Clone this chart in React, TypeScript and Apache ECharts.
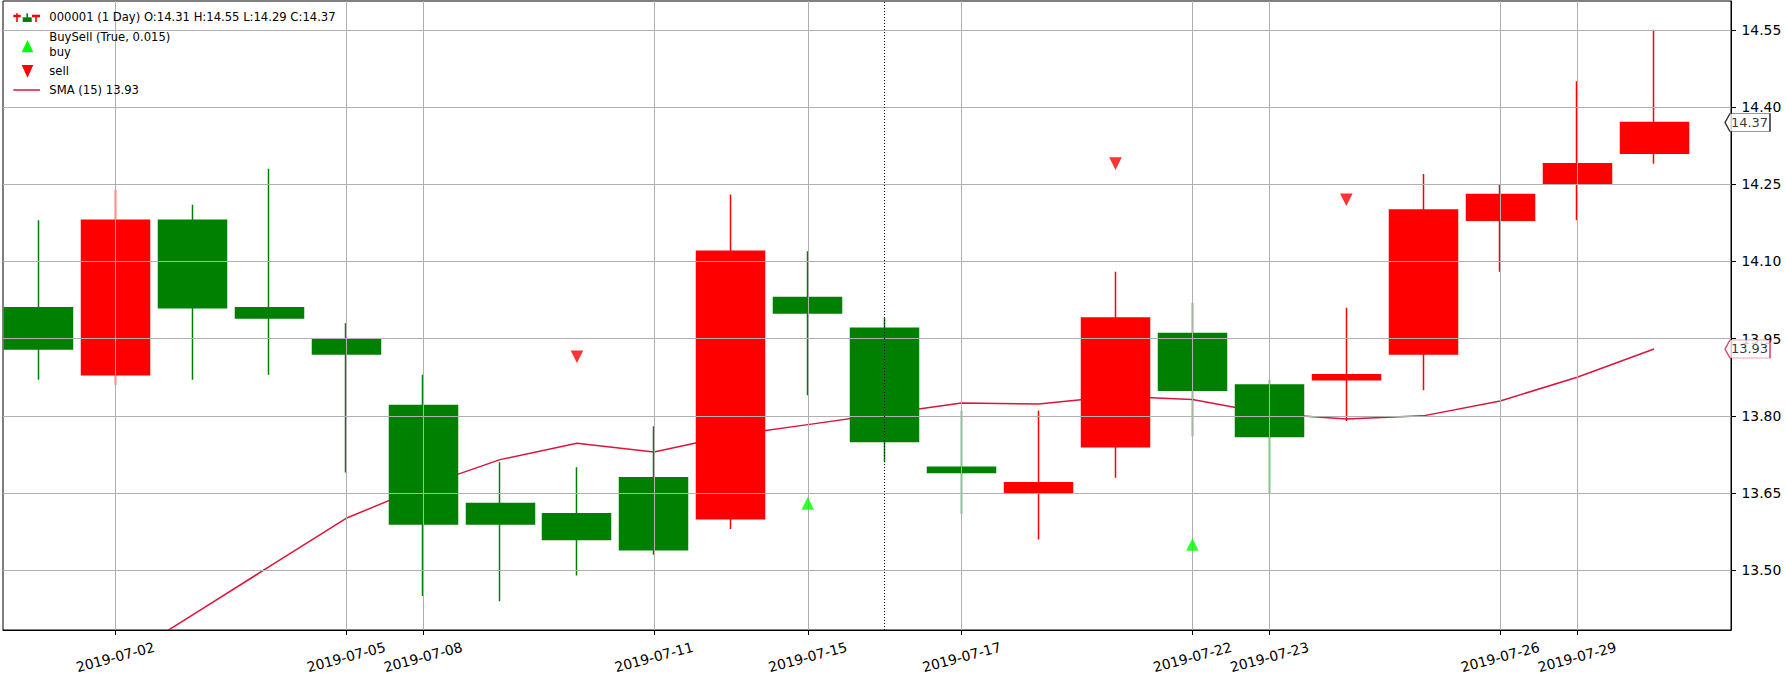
import React, { useEffect, useRef } from "react";
import * as echarts from "echarts";

const dates = [
  "2019-07-01", "2019-07-02", "2019-07-03", "2019-07-04", "2019-07-05",
  "2019-07-08", "2019-07-09", "2019-07-10", "2019-07-11", "2019-07-12",
  "2019-07-15", "2019-07-16", "2019-07-17", "2019-07-18", "2019-07-19",
  "2019-07-22", "2019-07-23", "2019-07-24", "2019-07-25", "2019-07-26",
  "2019-07-29", "2019-07-30",
];
const openP = [14.01, 13.88, 14.18, 14.01, 13.95, 13.82, 13.63, 13.61, 13.68, 13.60, 14.03, 13.97, 13.70, 13.65, 13.74, 13.96, 13.86, 13.87, 13.92, 14.18, 14.25, 14.31];
const closeP = [13.93, 14.18, 14.01, 13.99, 13.92, 13.59, 13.59, 13.56, 13.54, 14.12, 14.00, 13.75, 13.69, 13.67, 13.99, 13.85, 13.76, 13.88, 14.20, 14.23, 14.29, 14.37];
const lowP = [13.87, 13.86, 13.87, 13.88, 13.69, 13.45, 13.44, 13.49, 13.53, 13.58, 13.84, 13.71, 13.61, 13.56, 13.68, 13.76, 13.65, 13.79, 13.85, 14.08, 14.18, 14.29];
const highP = [14.18, 14.24, 14.21, 14.28, 13.98, 13.88, 13.71, 13.70, 13.78, 14.23, 14.12, 13.99, 13.81, 13.81, 14.08, 14.02, 13.87, 14.01, 14.27, 14.25, 14.45, 14.55];
const sma15 = [null, 13.319, 13.413, 13.507, 13.601, 13.663, 13.715, 13.747, 13.730, 13.762, 13.783, 13.804, 13.825, 13.823, 13.838, 13.832, 13.804, 13.794, 13.800, 13.829, 13.875, 13.93];
const buyIdx = [10, 15];
const buyVal = [13.63, 13.55];
const sellIdx = [7, 14, 17];
const sellVal = [13.915, 14.29, 14.22];
const xTickIdx = [1, 4, 5, 8, 10, 12, 15, 16, 19, 20];
const yTicks = [13.5, 13.65, 13.8, 13.95, 14.1, 14.25, 14.4, 14.55];
const cursorIdx = 11;

const X_MIN = -0.46;
const X_MAX = 22.0;
const Y_MIN = 13.384;
const Y_MAX = 14.606;

const FONT = "DejaVu Sans";
const TAG_PATH = "path://M0,9 L5,0 L45,0 L45,18 L5,18 Z";

export default function App() {
  const ref = useRef<HTMLDivElement>(null);
  useEffect(() => {
    if (!ref.current) return;
    const chart = echarts.init(ref.current, undefined, { renderer: "svg" });
    const last = dates.length - 1;
    const f2 = (v: number) => Number(v).toFixed(2);
    const header = `000001 (1 Day) O:${f2(openP[last])} H:${f2(highP[last])} L:${f2(lowP[last])} C:${f2(closeP[last])}`;
    const smaLast = sma15[last] as number;
    const legendFont = 11.6;
    const txt = (text: string, x: number, y: number) => ({
      type: "text",
      x,
      y,
      z: 50,
      style: { text, fontSize: legendFont, fontFamily: FONT, fill: "#000", verticalAlign: "middle", align: "left" },
    });
    const option: any = {
      animation: false,
      textStyle: { fontFamily: FONT },
      grid: {
        left: 3, right: 55, top: 1, bottom: 44,
        containLabel: false, outerBoundsMode: "none",
        show: true, borderColor: "#000", borderWidth: 1, backgroundColor: "transparent",
      },
      xAxis: {
        type: "value", min: X_MIN, max: X_MAX, z: 5,
        axisLine: { show: true, onZero: false, lineStyle: { color: "#000", width: 1 } },
        axisTick: { show: true, customValues: xTickIdx, length: 5, lineStyle: { color: "#000" } },
        axisLabel: { show: false, customValues: xTickIdx },
        splitLine: { show: true, lineStyle: { color: "#b0b0b0", width: 1 } },
      },
      yAxis: {
        type: "value", position: "right", min: Y_MIN, max: Y_MAX, scale: true, z: 5,
        axisLine: { show: true, onZero: false, lineStyle: { color: "#000", width: 1 } },
        axisTick: { show: true, customValues: yTicks, length: 5, lineStyle: { color: "#000" } },
        axisLabel: {
          customValues: yTicks, formatter: (v: number) => f2(v), margin: 10.5,
          fontSize: 13.9, color: "#000", fontFamily: FONT,
        },
        splitLine: { show: true, lineStyle: { color: "#b0b0b0", width: 1 } },
      },
      series: [
        {
          type: "line",
          data: sma15.map((v, i) => [i, v]).filter((d) => d[1] != null),
          showSymbol: false, symbol: "none", z: 2,
          lineStyle: { color: "#dc143c", width: 1.5 },
          itemStyle: { color: "#dc143c" },
        },
        {
          type: "candlestick",
          data: dates.map((_, i) => [i, openP[i], closeP[i], lowP[i], highP[i]]),
          encode: { x: 0, y: [1, 2, 3, 4] },
          barWidth: 68.5, z: 3,
          itemStyle: { color: "#ff0000", color0: "#008000", borderColor: "#ff0000", borderColor0: "#008000", borderWidth: 1.5 },
          markLine: {
            silent: true, symbol: "none", z: 10,
            label: { show: false },
            lineStyle: { type: [1, 2], color: "#000", width: 1 },
            data: [{ xAxis: cursorIdx }],
          },
        },
        {
          type: "scatter", z: 6,
          data: buyIdx.map((i, k) => [i, buyVal[k]]),
          symbol: "triangle", symbolSize: [12.6, 12.6],
          itemStyle: { color: "#00ff00" },
        },
        {
          type: "scatter", z: 6,
          data: sellIdx.map((i, k) => [i, sellVal[k]]),
          symbol: "triangle", symbolRotate: 180, symbolSize: [12.6, 12.6],
          itemStyle: { color: "#ff0000" },
        },
        {
          type: "scatter", z: 20, clip: false,
          data: [[X_MAX, closeP[last]]],
          symbol: TAG_PATH, symbolSize: [45, 18], symbolOffset: [16.5, 0],
          itemStyle: { color: "#ffffff", borderColor: "#000", borderWidth: 1 },
          label: { show: true, position: "inside", offset: [2, 0], formatter: (p: any) => f2(p.value[1]), color: "#000", fontSize: 13, fontFamily: FONT },
        },
        {
          type: "scatter", z: 20, clip: false,
          data: [[X_MAX, smaLast]],
          symbol: TAG_PATH, symbolSize: [45, 18], symbolOffset: [16.5, 0],
          itemStyle: { color: "#ffffff", borderColor: "#dc143c", borderWidth: 1 },
          label: { show: true, position: "inside", offset: [2, 0], formatter: (p: any) => f2(p.value[1]), color: "#000", fontSize: 13, fontFamily: FONT },
        },
      ],
    };
    chart.setOption(option);

    const legendGraphics: any[] = [
      { type: "line", z: 50, shape: { x1: 17, y1: 13.3, x2: 17, y2: 22 }, style: { stroke: "#ff0000", lineWidth: 1.6 } },
      { type: "rect", z: 50, shape: { x: 13.3, y: 14.7, width: 7.4, height: 2.6 }, style: { fill: "#ff0000" } },
      { type: "line", z: 50, shape: { x1: 27.2, y1: 13.3, x2: 27.2, y2: 18 }, style: { stroke: "#008000", lineWidth: 1.6 } },
      { type: "rect", z: 50, shape: { x: 22.7, y: 17.3, width: 9, height: 4.7 }, style: { fill: "#008000" } },
      { type: "line", z: 50, shape: { x1: 36, y1: 15, x2: 36, y2: 22 }, style: { stroke: "#ff0000", lineWidth: 1.6 } },
      { type: "rect", z: 50, shape: { x: 32, y: 14.7, width: 8, height: 2.6 }, style: { fill: "#ff0000" } },
      txt(header, 49.3, 17.3),
      txt("BuySell (True, 0.015)", 49.3, 36.5),
      txt("buy", 49.3, 51.5),
      { type: "polygon", z: 50, shape: { points: [[21.7, 52.3], [27.5, 40], [33.3, 52.3]] }, style: { fill: "#00ff00" } },
      txt("sell", 49.3, 70.8),
      { type: "polygon", z: 50, shape: { points: [[21.7, 65], [33.3, 65], [27.5, 77.7]] }, style: { fill: "#ff0000" } },
      { type: "line", z: 50, shape: { x1: 13.3, y1: 90, x2: 40, y2: 90 }, style: { stroke: "#dc143c", lineWidth: 1.5 } },
      txt(`SMA (15) ${f2(smaLast)}`, 49.3, 90),
    ];
    const xLabelGraphics = xTickIdx.map((i) => {
      const pt = chart.convertToPixel({ gridIndex: 0 } as any, [i, Y_MIN]) as number[];
      return {
        type: "group",
        x: pt[0],
        y: pt[1] + 27,
        rotation: (15 * Math.PI) / 180,
        z: 50,
        children: [
          {
            type: "text",
            x: 0,
            y: 0,
            z: 50,
            style: { text: dates[i], fontSize: 13.9, fontFamily: FONT, fill: "#000", align: "center", verticalAlign: "middle" },
          },
        ],
      };
    });
    chart.setOption({ graphic: [...legendGraphics, ...xLabelGraphics] });
    return () => chart.dispose();
  }, []);
  return (
    <div
      ref={ref}
      style={{ position: "absolute", left: 0, top: 0, width: 1786, height: 674, background: "#fff" }}
    />
  );
}
